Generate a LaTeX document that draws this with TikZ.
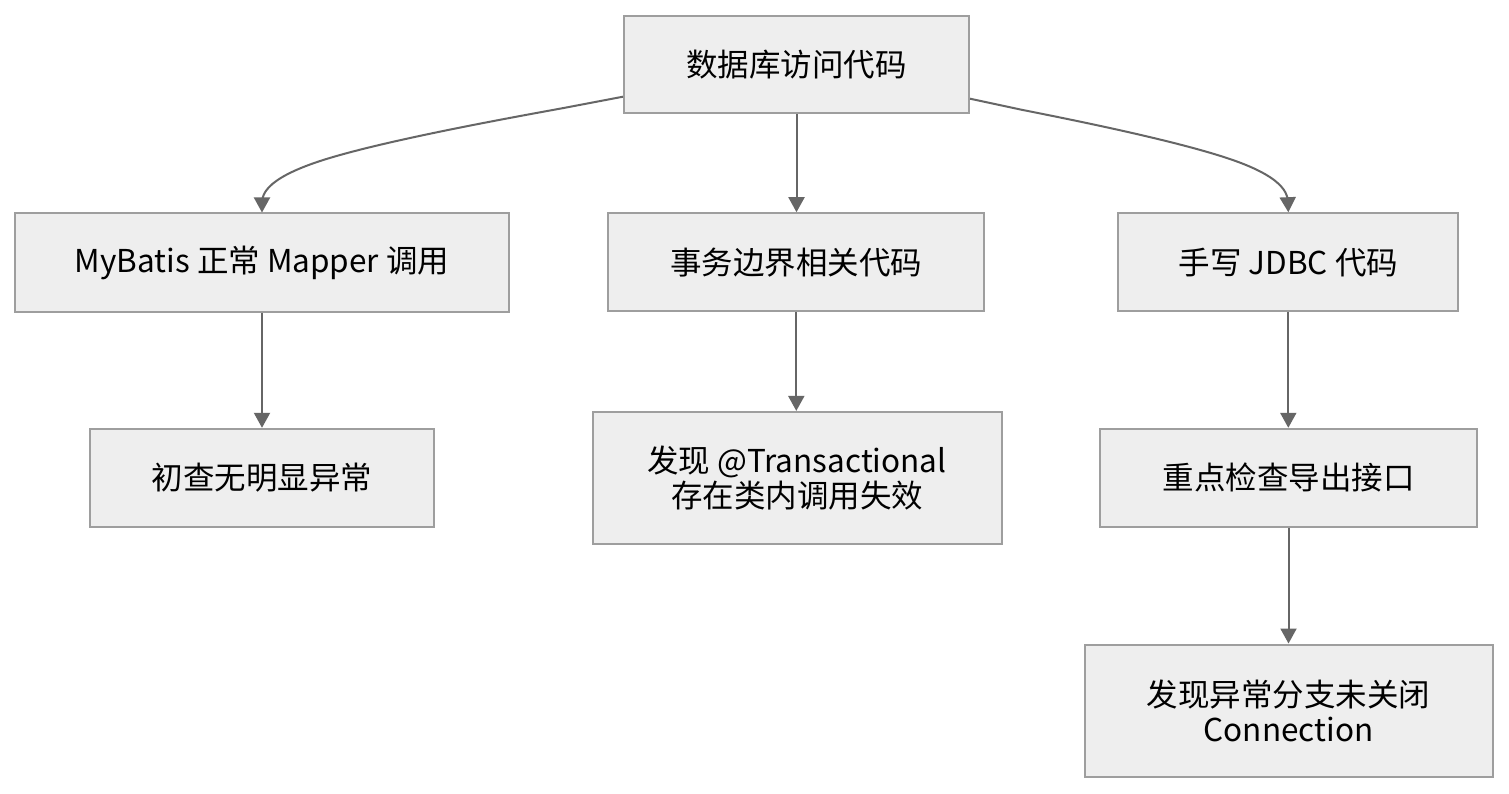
\documentclass[tikz,border=0pt]{standalone}
\usepackage{fontspec}
\setmainfont{Noto Sans CJK SC}
\usetikzlibrary{arrows.meta}
\definecolor{boxfill}{HTML}{EEEEEE}
\definecolor{boxline}{HTML}{9E9E9E}
\definecolor{edgecol}{HTML}{666666}
\tikzset{
  box/.style={draw=boxline, fill=boxfill, line width=2pt, inner sep=0pt, align=center,
    font=\fontsize{31.5}{35}\selectfont},
  edge/.style={draw=edgecol, line width=2pt, -{Triangle[length=15pt,width=16pt]}}
}
\begin{document}
\begin{tikzpicture}[x=1pt,y=-1pt]
\useasboundingbox[fill=white] (0,0) rectangle (1509,794);
\node[box, minimum width=345pt, minimum height=97pt] (top) at (796.5,64.7) {数据库访问代码};
\node[box, minimum width=494pt, minimum height=98pt] (mb) at (262,262.5) {MyBatis 正常 Mapper 调用};
\node[box, minimum width=376pt, minimum height=98pt] (tx) at (796.3,262.2) {事务边界相关代码};
\node[box, minimum width=340pt, minimum height=98pt] (jd) at (1288.3,262.2) {手写 JDBC 代码};
\node[box, minimum width=344pt, minimum height=98pt] (cc) at (262,477.8) {初查无明显异常};
\node[box, minimum width=409pt, minimum height=132pt] (tr) at (797,477.9) {发现 @Transactional\\存在类内调用失效};
\node[box, minimum width=377pt, minimum height=98pt] (chk) at (1288.5,477.8) {重点检查导出接口};
\node[box, minimum width=408pt, minimum height=132pt] (conn) at (1288.5,710.5) {发现异常分支未关闭\\Connection};

\draw[edge] ([yshift=-32pt]top.west) -- (563.7,108) .. controls (503.3,119) and (382.7,141) .. (322.3,160.3) .. controls (262,179.7) and (262,196.3) .. (262,204.7) -- (mb.north);
\draw[edge] ([yshift=-34pt]top.east) -- (1021.3,109.7) .. controls (1074.7,120.3) and (1181.3,141.7) .. (1234.7,160.7) .. controls (1288,179.7) and (1288,196.3) .. (1288,204.7) -- (jd.north);
\draw[edge] (top.south) -- (top.south |- tx.north);
\draw[edge] (mb.south) -- (cc.north);
\draw[edge] (tx.south) -- (tx.south |- tr.north);
\draw[edge] (jd.south) -- (jd.south |- chk.north);
\draw[edge] (chk.south) -- (chk.south |- conn.north);
\end{tikzpicture}
\end{document}
